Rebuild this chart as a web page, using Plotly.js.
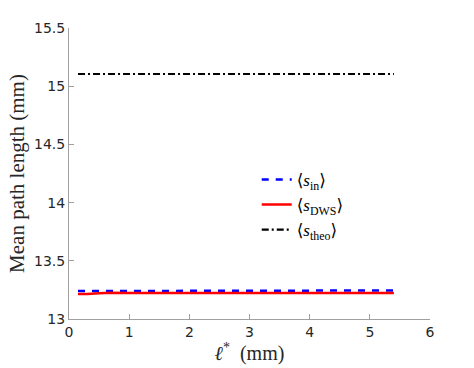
<!DOCTYPE html>
<html><head><meta charset="utf-8">
<script src="https://cdn.plot.ly/plotly-3.0.1.min.js"></script>
<style>html,body{margin:0;padding:0;background:#fff}</style>
</head><body><div id="chart" style="width:474px;height:368px"></div>
<script>
const lstar = [0.15, 0.3, 0.5, 0.7, 1.0, 1.5, 2.0, 2.5, 3.0, 3.5, 4.0, 4.5, 5.0, 5.4];
const sIn   = [13.24, 13.24, 13.245, 13.245, 13.245, 13.245, 13.245, 13.245, 13.245, 13.245, 13.245, 13.245, 13.245, 13.245];
const sDWS  = [13.215, 13.215, 13.222, 13.225, 13.223, 13.223, 13.223, 13.223, 13.223, 13.223, 13.223, 13.223, 13.223, 13.223];
const sTheo = [15.105, 15.105, 15.105, 15.105, 15.105, 15.105, 15.105, 15.105, 15.105, 15.105, 15.105, 15.105, 15.105, 15.105];
const names = ['⟨<i>s</i><sub>in</sub>⟩', '⟨<i>s</i><sub>DWS</sub>⟩', '⟨<i>s</i><sub>theo</sub>⟩'];

const traces = [
  {x: lstar, y: sIn, name: names[0], mode: 'lines', line: {color: '#0000ff', width: 2.5, dash: '7px,7px'}},
  {x: lstar, y: sDWS, name: names[1], mode: 'lines', line: {color: '#ff0000', width: 2.5}},
  {x: lstar, y: sTheo, name: names[2], mode: 'lines', line: {color: '#000000', width: 2.2, dash: '7px,3px,2px,3px'}}
];
const tickFont = {family: 'DejaVu Sans, sans-serif', size: 14, color: '#262626'};
const serif = 'Liberation Serif, DejaVu Serif, serif';
const layout = {
  width: 474, height: 368,
  margin: {l: 69, r: 44, t: 28, b: 49},
  paper_bgcolor: '#fff', plot_bgcolor: '#fff',
  showlegend: true,
  legend: {x: 0.52, y: 0.54, xanchor: 'left', yanchor: 'top', bgcolor: 'rgba(0,0,0,0)',
           font: {family: serif, size: 17, color: '#000'},
           tracegroupgap: 0, itemwidth: 30},
  xaxis: {range: [0, 6], dtick: 1, tick0: 0, showgrid: false, zeroline: false,
          showline: true, linecolor: '#a0a0a0', linewidth: 1, ticks: 'inside', ticklen: 5,
          tickcolor: '#a0a0a0', tickfont: tickFont,
          title: {text: '<i>ℓ</i><sup>*</sup>  (mm)', font: {family: serif, size: 20, color: '#262626'}, standoff: 2}},
  yaxis: {range: [13, 15.5], dtick: 0.5, tick0: 13, showgrid: false, zeroline: false,
          showline: true, linecolor: '#a0a0a0', linewidth: 1, ticks: 'inside', ticklen: 5,
          tickcolor: '#a0a0a0', tickfont: tickFont,
          title: {text: 'Mean path length (mm)', font: {family: serif, size: 21, color: '#262626'}, standoff: 3}}
};
Plotly.newPlot('chart', traces, layout, {displayModeBar: false, staticPlot: true});
</script></body></html>
